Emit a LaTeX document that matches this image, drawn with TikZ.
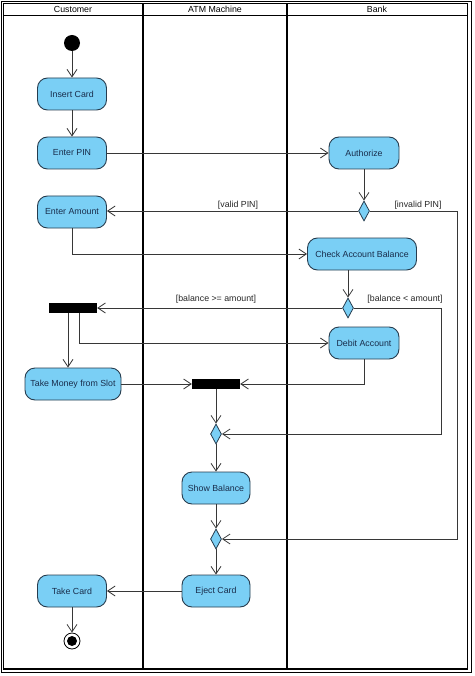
\documentclass[tikz,border=0pt]{standalone}
\usepackage{fontspec}
\setmainfont{Liberation Sans}
\usetikzlibrary{shapes.geometric, arrows.meta, calc}
\definecolor{actfill}{RGB}{122,207,245}
\definecolor{actline}{RGB}{38,60,78}
\definecolor{acttext}{RGB}{25,45,75}
\definecolor{flowline}{RGB}{55,55,55}
\tikzset{
  action/.style={draw=actline, fill=actfill, rounded corners=10pt,
    minimum width=69pt, minimum height=32pt, inner sep=2pt,
    text=acttext, font=\fontsize{8.8}{10}\selectfont, line width=0.9pt},
  decision/.style={diamond, draw=actline, fill=actfill, minimum width=11pt,
    minimum height=20pt, inner sep=0pt, line width=0.8pt},
  syncbar/.style={fill=black, minimum width=48pt, minimum height=10pt, inner sep=0pt},
  flow/.style={draw=flowline, line width=0.8pt, -{Straight Barb[length=7.5pt,width=10pt]}},
  guard/.style={font=\fontsize{8.8}{10}\selectfont, text=black!85, inner sep=1pt},
  lanehead/.style={font=\fontsize{8.8}{10}\selectfont, inner sep=0pt},
}
\begin{document}
\begin{tikzpicture}[x=1pt, y=-1pt]
  \useasboundingbox (0,0) rectangle (474,676);
  % 泳道框线
  \draw[line width=0.8pt] (1.5,1.5) rectangle (471,672);
  \draw[line width=1.6pt] (3.5,3.5) rectangle (467.5,669);
  \draw[line width=1.4pt] (3.5,15.5) -- (467.5,15.5);
  \foreach \x in {143,287} % 泳道分隔线
    \draw[line width=1.8pt] (\x,3.5) -- (\x,669);
  \foreach \x/\lane/\txt in {73/cust/Customer, 215/atm/ATM Machine, 377/bank/Bank}
    \node[lanehead] (\lane) at (\x,9.5) {\txt};

  % 活动节点
  \node[circle, fill=black, minimum size=16pt, inner sep=0pt] (start) at (72,43) {};
  \node[action] (insert) at (72,94) {Insert Card};
  \node[action] (pin) at (72,153) {Enter PIN};
  \node[action, minimum width=70pt] (auth) at (364,153) {Authorize};
  \node[decision] (pinok) at (364,211) {};
  \node[action] (amount) at (72,212) {Enter Amount};
  \node[action, minimum width=109pt] (check) at (362,254) {Check Account Balance};
  \node[decision] (enough) at (348,308) {};
  \node[syncbar] (fork) at (73,308) {};
  \node[action, minimum width=70pt] (debit) at (364,343) {Debit Account};
  \node[action, minimum width=96pt] (money) at (73,384) {Take Money from Slot};
  \node[syncbar] (join) at (216,384) {};
  \node[decision] (merge1) at (216,434) {};
  \node[action, minimum width=68pt] (show) at (216,488) {Show Balance};
  \node[decision] (merge2) at (216,539) {};
  \node[action, minimum width=68pt] (eject) at (216,591) {Eject Card};
  \node[action] (take) at (72,591) {Take Card};
  \node[circle, draw=black, fill=white, line width=0.8pt, minimum size=16pt, inner sep=0pt] (stop) at (72,641) {};
  \node[circle, fill=black, minimum size=10pt, inner sep=0pt] (stopdot) at (stop) {};

  % 控制流
  \draw[flow] (start) -- (insert);
  \draw[flow] (insert) -- (pin);
  \draw[flow] (pin) -- (auth);
  \draw[flow] (auth) -- (pinok);
  \draw[flow] (pinok.west) -- (amount.east |- pinok.west);
  \draw[flow] (pinok.east) -- (457,211) |- (merge2.east);
  \draw[flow] (amount.south) |- (check.west);
  \draw[flow] (enough |- check.south) -- (enough.north);
  \draw[flow] (enough.west) -- (fork.east);
  \draw[flow] (enough.east) -- (441,308) |- (merge1.east);
  \draw[flow] ([xshift=6pt]fork.south) |- (debit.west);
  \draw[flow] ([xshift=-5pt]fork.south) -- ([xshift=-5pt]fork.south |- money.north);
  \draw[flow] (money.east) -- (join.west);
  \draw[flow] (debit.south) |- (join.east);
  \draw[flow] (join) -- (merge1);
  \draw[flow] (merge1) -- (show);
  \draw[flow] (show) -- (merge2);
  \draw[flow] (merge2) -- (eject);
  \draw[flow] (eject) -- (take);
  \draw[flow] (take) -- (stop);

  % 条件标签
  \node[guard] (validlbl) at (238,205) {[valid PIN]};
  \node[guard] (invalidlbl) at (418,205) {[invalid PIN]};
  \node[guard] (geqlbl) at (216,299) {[balance >= amount]};
  \node[guard] (ltlbl) at (405,299) {[balance < amount]};
\end{tikzpicture}
\end{document}
